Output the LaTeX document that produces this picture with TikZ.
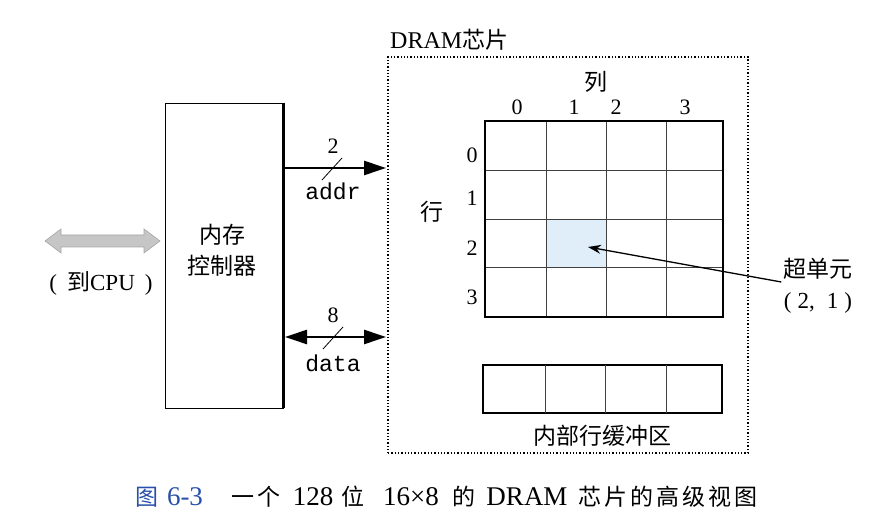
\documentclass[tikz,border=0pt]{standalone}
\usepackage{fontspec}
\setmainfont{Liberation Serif}
\setmonofont{Liberation Mono}
\newfontfamily\cjk{Noto Sans CJK SC}
\usetikzlibrary{arrows.meta}
\definecolor{cellblue}{RGB}{224,238,250}
\definecolor{capblue}{RGB}{40,80,170}
\tikzset{
  lbl/.style={inner sep=0pt, font=\cjk\fontsize{23}{31}\selectfont},
  num/.style={inner sep=0pt, font=\fontsize{22}{24}\selectfont},
  mono/.style={inner sep=0pt, font=\ttfamily\fontsize{23}{24}\selectfont},
  capcjk/.style={inner sep=0pt, font=\cjk\fontsize{23}{24}\selectfont},
  caplat/.style={inner sep=0pt, font=\fontsize{27}{24}\selectfont},
  bus/.style={line width=2.6pt},
  thin/.style={line width=0.6pt, black!75},
  thick/.style={line width=2.6pt},
}
\begin{document}
\begin{tikzpicture}[x=1pt,y=-1pt]
\useasboundingbox (0,0) rectangle (887,526);
% memory controller
\node[draw, line width=0.8pt, minimum width=118pt, minimum height=305pt, inner sep=0pt] (mc) at (224,255.5) {};
\draw[thick] (mc.north east) -- (mc.south east);
\node[lbl, align=center] (mctext) at (222,250) {内存\\控制器};
% CPU arrow
\coordinate (cpuL) at (45,241);
\coordinate (cpuR) at (160,241);
\fill[gray!45, draw=gray!70, line width=0.6pt]
  (cpuL) -- ++(16,-12) -- ++(0,6) -- ++(83,0) -- ++(0,-6) -- (cpuR) -- ++(-16,12) -- ++(0,-6) -- ++(-83,0) -- ++(0,6) -- cycle;
\node[lbl] (cpu) at (101,283) {{\rmfamily(}\hspace{10pt}到{\rmfamily CPU}\hspace{10pt}{\rmfamily)}};
% DRAM chip
\node[draw, dotted, line width=1.3pt, minimum width=360pt, minimum height=396pt, inner sep=0pt] (dram) at (568,255) {};
\node[lbl, anchor=west] (dramlbl) at (390,40) {{\rmfamily\fontsize{24}{24}\selectfont DRAM}芯片};
% addr bus
\coordinate (addrA) at (mc.east |- 0,168);
\coordinate (addrB) at (386,168);
\draw[bus, -{Triangle[length=22pt,width=14pt]}] (addrA) -- (addrB);
\coordinate (addrS1) at (322,180);
\coordinate (addrS2) at (342,158);
\draw[line width=0.8pt] (addrS1) -- (addrS2);
\node[num] (addrn) at (333,146) {2};
\node[mono] (addrt) at (333,191) {addr};
% data bus
\coordinate (dataA) at (285,337);
\coordinate (dataB) at (386,337);
\draw[bus, {Triangle[length=22pt,width=14pt]}-{Triangle[length=22pt,width=14pt]}] (dataA) -- (dataB);
\draw[line width=0.8pt] (323,349) -- (343,327);
\node[num] (datan) at (333,315) {8};
\node[mono] (datat) at (333,363) {data};
% grid
\node[fill=cellblue, minimum width=60pt, minimum height=48pt, inner sep=0pt] (cell) at (576,243) {};
\foreach \x in {546,606,666} \draw[thin] (\x,121) -- (\x,317);
\foreach \y in {170,219,267} \draw[thin] (485,\y) -- (723,\y);
\node[draw, thick, minimum width=238pt, minimum height=196pt, inner sep=0pt] (grid) at (604,219) {};
\node[lbl] (collbl) at (596,82) {列};
\node[num] (c0) at (517,107) {0};
\node[num] (c1) at (574,107) {1};
\node[num] (c2) at (616,107) {2};
\node[num] (c3) at (685,107) {3};
\node[lbl] (rowlbl) at (432,212) {行};
\node[num] (r0) at (472,155) {0};
\node[num] (r1) at (472,198) {1};
\node[num] (r2) at (472,248) {2};
\node[num] (r3) at (472,297) {3};
% supercell label
\node[lbl, align=center] (sc) at (818,286) {超单元\\{\rmfamily(\hspace{6pt}2,\hspace{12pt}1\hspace{6pt})}};
\coordinate (tip) at (588,247);
\draw[line width=1.3pt, -{Stealth[length=13pt,width=9pt]}] (sc.west) ++(-2,-4) -- (tip);
% row buffer
\node[draw, thick, minimum width=239pt, minimum height=48pt, inner sep=0pt] (buf) at (602.5,389) {};
\foreach \x in {545,605,666} \draw[thin] (\x,365) -- (\x,413);
\node[lbl] (buflbl) at (602,436) {内部行缓冲区};
% caption
\node[capcjk, text=capblue] (capn1) at (147,497) {图};
\node[caplat, text=capblue] (capn2) at (185,497) {6-3};
\node[capcjk] (cap1) at (256,497) {一\hspace{3pt}个};
\node[caplat] (cap2) at (313,497) {128};
\node[capcjk] (cap3) at (353,497) {位};
\node[caplat] (cap4) at (411,497) {16×8};
\node[capcjk] (cap5) at (464,497) {的};
\node[caplat] (cap6) at (527,497) {DRAM};
\node[capcjk] (cap7) at (668,497) {芯\hspace{3pt}片\hspace{3pt}的\hspace{3pt}高\hspace{3pt}级\hspace{3pt}视\hspace{3pt}图};
\end{tikzpicture}
\end{document}
